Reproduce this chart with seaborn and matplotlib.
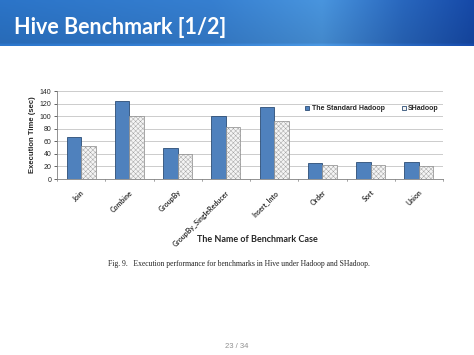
import numpy as np
import pandas as pd
import matplotlib
matplotlib.use("Agg")
import matplotlib.pyplot as plt
import seaborn as sns

categories = ["Join", "Combine", "GroupBy", "GroupBy_SingleReducer", "Insert_Into",
              "Order", "Sort", "Union"]
hadoop = [67, 124, 50, 100, 114, 26, 27, 27]
shadoop = [52, 100, 40, 83, 93, 22, 22, 21]
series = ["The Standard Hadoop", "SHadoop"]
y_ticks = [0, 20, 40, 60, 80, 100, 120, 140]

df = pd.DataFrame({
    "case": categories * 2,
    "time": hadoop + shadoop,
    "system": [series[0]] * len(categories) + [series[1]] * len(categories),
})

sns.set_theme(style="white")
plt.rcParams["font.family"] = ["Liberation Sans", "DejaVu Sans"]
plt.rcParams["hatch.linewidth"] = 0.25
plt.rcParams["hatch.color"] = "#a8a8a8"

W, H = 474, 355
fig = plt.figure(figsize=(W / 100, H / 100), dpi=100)
fig.patch.set_facecolor("white")

# Title bar
tb = fig.add_axes([0, 1 - 46 / H, 1, 46 / H])
x = np.linspace(0, 1, 400)
stops = [0, 0.45, 0.68, 0.85, 1]
r = np.interp(x, stops, [0.16, 0.20, 0.27, 0.15, 0.08])
g = np.interp(x, stops, [0.43, 0.47, 0.55, 0.38, 0.27])
b = np.interp(x, stops, [0.74, 0.77, 0.82, 0.70, 0.62])
grad = np.stack([r, g, b], axis=-1)[None, :, :]
grad = np.repeat(grad, 20, axis=0)
vshade = np.linspace(1.06, 0.97, 20)[:, None, None]
img = np.clip(grad * vshade, 0, 1)
img[-1:, :, :] = np.clip(img[-1:, :, :] * 1.12, 0, 1)
tb.imshow(img, aspect="auto", extent=[0, 1, 0, 1])
tb.set_axis_off()
tb.text(0.03, 0.40, "Hive Benchmark [1/2]", color="white", fontsize=15.5,
        fontweight="bold", family=["Lato", "DejaVu Sans"], va="center", ha="left",
        transform=tb.transAxes)

# Chart
ax = fig.add_axes([57 / W, 1 - 179 / H, (443 - 57) / W, (179 - 91) / H])
sns.barplot(data=df, x="case", y="time", hue="system", order=categories,
            hue_order=series, palette=["#4f81bd", "#f4f4f4"], width=0.6,
            saturation=1, ax=ax, edgecolor="#2c4d75", linewidth=0.6)
for bar in ax.containers[1]:
    bar.set_hatch("xxxxxxx")
    bar.set_edgecolor("#8a8a8a")
    bar.set_linewidth(0.5)

ax.set_ylim(0, 140)
ax.set_yticks(y_ticks)
ax.set_yticklabels([str(t) for t in y_ticks], fontsize=5)
ax.yaxis.grid(True, color="#b8b8b8", linewidth=0.5)
ax.set_axisbelow(True)
ax.set_xlim(-0.5, len(categories) - 0.5)
ax.set_xticks(range(len(categories)))
ax.set_xticklabels(categories, rotation=45, ha="right", rotation_mode="anchor",
                   fontsize=5, fontweight="bold", family=["Lato", "DejaVu Sans"],
                   color="#333333")
ax.tick_params(axis="x", length=0, pad=7)
ax.tick_params(axis="y", length=2, width=0.5, pad=2, left=True)
for xb in np.arange(-0.5, len(categories), 1.0):
    ax.plot([xb, xb], [0, -2.5], color="#808080", lw=0.5, clip_on=False)
for s in ["top", "right"]:
    ax.spines[s].set_visible(False)
ax.spines["left"].set_color("#808080")
ax.spines["bottom"].set_color("#808080")
ax.spines["left"].set_linewidth(0.6)
ax.spines["bottom"].set_linewidth(0.6)
ax.set_ylabel("Execution Time (sec)", fontsize=5.5, fontweight="bold", labelpad=3)
ax.set_xlabel("")

handles, labels = ax.get_legend_handles_labels()
ax.legend(handles, labels, ncol=2, frameon=False, loc="center",
          bbox_to_anchor=((372 - 57) / (443 - 57), (179 - 109) / 88),
          handlelength=0.6, handleheight=0.6, handletextpad=0.3,
          columnspacing=2.5, prop={"weight": "bold", "size": 5})

fig.text(0.5 + 20 / W, 1 - 240 / H, "The Name of Benchmark Case", fontsize=6.5,
         fontweight="bold", family=["Lato", "DejaVu Sans"], ha="center", va="center")
fig.text(0.5 + 2 / W, 1 - 264 / H,
         "Fig. 9.   Execution performance for benchmarks in Hive under Hadoop and SHadoop.",
         fontsize=5.5, family=["Liberation Serif", "DejaVu Serif"], ha="center",
         va="center", color="#222222")
fig.text(0.5, 1 - 347 / H, "23 / 34", fontsize=5.5, color="#909090",
         ha="center", va="center")

fig.savefig("out.png", dpi=100)
